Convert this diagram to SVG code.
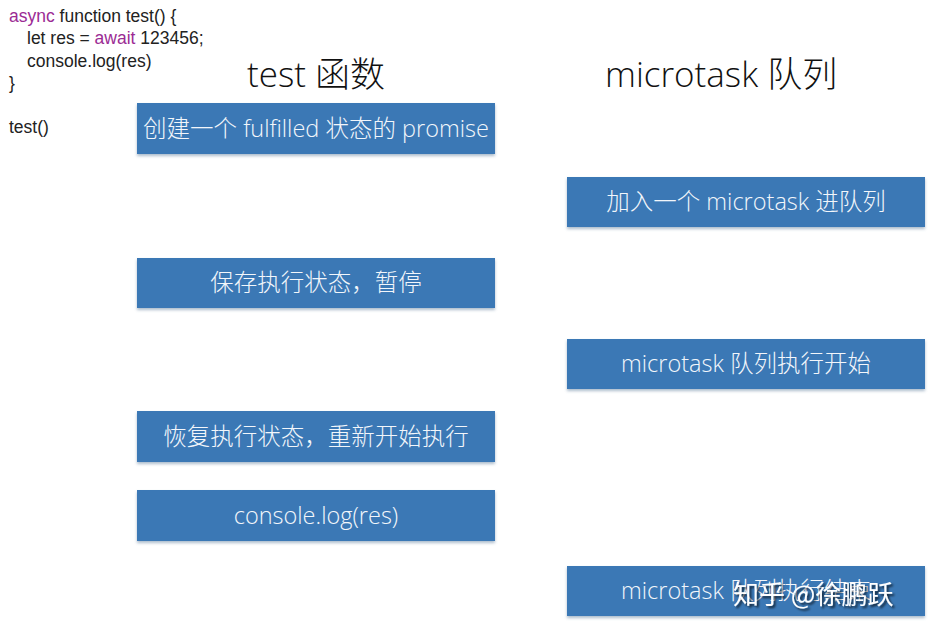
<svg xmlns="http://www.w3.org/2000/svg" width="938" height="635" viewBox="0 0 938 635">
<defs>
<style>
.code{font-family:"Liberation Sans","Noto Sans CJK SC",sans-serif;font-size:17.5px;fill:#222;}
.kw{fill:#9b2b94;}
.title{font-family:"Open Sans","Noto Sans CJK SC",sans-serif;font-size:35px;fill:#111;font-weight:300;}
.box{fill:#3b78b5;filter:url(#sh);}
.lbl{font-family:"Open Sans","Noto Sans CJK SC",sans-serif;font-size:23.5px;fill:#f2f6fb;font-weight:300;text-anchor:middle;}
.wm{font-family:"Noto Sans CJK SC",sans-serif;font-size:26px;fill:#fff;filter:url(#wsh);}
</style>
<filter id="sh" x="-5%" y="-20%" width="110%" height="150%">
<feGaussianBlur in="SourceAlpha" stdDeviation="1.5"/>
<feOffset dy="2" result="b"/>
<feFlood flood-color="#5a7a99" flood-opacity="0.5"/>
<feComposite in2="b" operator="in"/>
<feMerge><feMergeNode/><feMergeNode in="SourceGraphic"/></feMerge>
</filter>
<filter id="wsh" x="-10%" y="-30%" width="120%" height="160%">
<feGaussianBlur in="SourceAlpha" stdDeviation="1"/>
<feOffset dx="1.5" dy="1.5" result="b"/>
<feFlood flood-color="#000" flood-opacity="0.7"/>
<feComposite in2="b" operator="in"/>
<feMerge><feMergeNode/><feMergeNode in="SourceGraphic"/></feMerge>
</filter>
</defs>
<rect width="938" height="635" fill="#fff"/>
<g id="code">
<text class="code" x="9" y="22"><tspan class="kw">async</tspan> function test() {</text>
<text class="code" x="27" y="44">let res = <tspan class="kw">await</tspan> 123456;</text>
<text class="code" x="27" y="67">console.log(res)</text>
<text class="code" x="9" y="89">}</text>
<text class="code" x="9" y="133">test()</text>
</g>
<g id="titles">
<text class="title" x="247" y="87">test 函数</text>
<text class="title" x="605" y="87">microtask 队列</text>
</g>
<g id="connectors"></g>
<g id="n1"><rect class="box" x="137" y="103" width="358" height="51"/><text class="lbl" x="316" y="137">创建一个 fulfilled 状态的 promise</text></g>
<g id="n2"><rect class="box" x="567" y="177" width="358" height="50"/><text class="lbl" x="746" y="210">加入一个 microtask 进队列</text></g>
<g id="n3"><rect class="box" x="137" y="258" width="358" height="50"/><text class="lbl" x="316" y="291">保存执行状态，暂停</text></g>
<g id="n4"><rect class="box" x="567" y="339" width="358" height="50"/><text class="lbl" x="746" y="372">microtask 队列执行开始</text></g>
<g id="n5"><rect class="box" x="137" y="411" width="358" height="51"/><text class="lbl" x="316" y="445">恢复执行状态，重新开始执行</text></g>
<g id="n6"><rect class="box" x="137" y="490" width="358" height="51"/><text class="lbl" x="316" y="524">console.log(res)</text></g>
<g id="n7"><rect class="box" x="567" y="566" width="358" height="50"/><text class="lbl" x="746" y="599">microtask 队列执行结束</text></g>
<g id="watermark"><text class="wm" x="733" y="604">知乎 @徐鹏跃</text></g>
</svg>
